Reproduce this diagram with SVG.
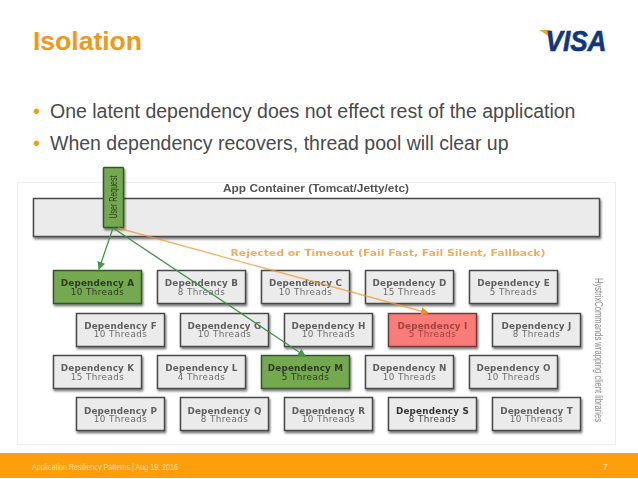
<svg xmlns="http://www.w3.org/2000/svg" width="638" height="479" viewBox="0 0 638 479">
<style>
.s{font-family:"Liberation Sans",Arial,sans-serif}
.d{font-family:"DejaVu Sans",sans-serif}
.b{fill:#ebebeb;stroke:#484848;stroke-width:1.500}
.g{fill:#74a94f;stroke:#37532f;stroke-width:1.500}
.r{fill:#fa7b78;stroke:#6e3c3c;stroke-width:1.500}
.t1{font-size:8.800px;letter-spacing:.2px;font-weight:bold;fill:#5f5f5f;text-anchor:middle}
.t2{font-size:8.800px;letter-spacing:.4px;fill:#6c6c6c;text-anchor:middle}
.dk{fill:#2c3a26}
.bul{font-size:19.500px;fill:#4a4a4a}
.dot{font-size:19.500px;fill:#f59a0e}
</style>
<defs>
<filter id="sh" x="-10%" y="-10%" width="125%" height="135%"><feDropShadow dx="1" dy="2" stdDeviation="1.300" flood-color="#000" flood-opacity=".55"/></filter>
<filter id="soft" x="-5%" y="-20%" width="110%" height="140%"><feGaussianBlur stdDeviation=".35"/></filter>
<marker id="ag" markerUnits="userSpaceOnUse" markerWidth="9" markerHeight="8" refX="7" refY="4" orient="auto"><path d="M0 0L8 4L0 8z" fill="#3f9a45"/></marker>
<marker id="ao" markerUnits="userSpaceOnUse" markerWidth="9" markerHeight="8" refX="7" refY="4" orient="auto"><path d="M0 0L8 4L0 8z" fill="#ee8f1e"/></marker>
</defs>
<rect width="638" height="479" fill="#fff"/>
<text class="s" x="33" y="50" font-size="26.500" font-weight="bold" fill="#f0981a">Isolation</text>
<g id="logo">
<polygon points="539,30 550,30 553,42 547,35" fill="#e9a52c"/>
<text class="s" x="576" y="51" font-size="29" font-weight="bold" font-style="italic" stroke="#12357f" stroke-width=".6" fill="#12357f" text-anchor="middle" textLength="61" lengthAdjust="spacingAndGlyphs">VISA</text>
</g>
<text class="s dot" x="33" y="118">•</text>
<text class="s bul" x="50" y="118">One latent dependency does not effect rest of the application</text>
<text class="s dot" x="33" y="150">•</text>
<text class="s bul" x="50" y="150">When dependency recovers, thread pool will clear up</text>

<g id="panel"><rect x="17.500" y="182.500" width="598" height="262" fill="#fff" stroke="#eeeeee"/>
<text class="s" x="316" y="192" font-size="10" font-weight="bold" fill="#555" text-anchor="middle" textLength="186" lengthAdjust="spacingAndGlyphs" filter="url(#soft)">App Container (Tomcat/Jetty/etc)</text>
<text class="s" transform="translate(595,350) rotate(90)" font-size="10.500" fill="#8a8a8a" text-anchor="middle" textLength="144" lengthAdjust="spacingAndGlyphs" filter="url(#soft)">HystrixCommands wrapping client libraries</text>
</g>
<g id="app-container"><rect class="b" x="33.500" y="198.500" width="566" height="38" filter="url(#sh)"/></g>
<text class="d" x="388" y="256" font-size="9.500" font-weight="bold" fill="#edae5c" text-anchor="middle" textLength="315" lengthAdjust="spacingAndGlyphs" filter="url(#soft)">Rejected or Timeout (Fail Fast, Fail Silent, Fallback)</text>

<g id="dep-a"><rect class="g" x="53.500" y="270.500" width="88" height="33" filter="url(#sh)"/><text class="d t1 dk" x="97.500" y="286" filter="url(#soft)">Dependency A</text><text class="d t2 dk" x="97.500" y="294.500" filter="url(#soft)">10 Threads</text></g>
<g id="dep-b"><rect class="b" x="157.500" y="270.500" width="88" height="33" filter="url(#sh)"/><text class="d t1" x="201.500" y="286" filter="url(#soft)">Dependency B</text><text class="d t2" x="201.500" y="294.500" filter="url(#soft)">8 Threads</text></g>
<g id="dep-c"><rect class="b" x="261.500" y="270.500" width="88" height="33" filter="url(#sh)"/><text class="d t1" x="305.500" y="286" filter="url(#soft)">Dependency C</text><text class="d t2" x="305.500" y="294.500" filter="url(#soft)">10 Threads</text></g>
<g id="dep-d"><rect class="b" x="365.500" y="270.500" width="88" height="33" filter="url(#sh)"/><text class="d t1" x="409.500" y="286" filter="url(#soft)">Dependency D</text><text class="d t2" x="409.500" y="294.500" filter="url(#soft)">15 Threads</text></g>
<g id="dep-e"><rect class="b" x="469.500" y="270.500" width="88" height="33" filter="url(#sh)"/><text class="d t1" x="513.500" y="286" filter="url(#soft)">Dependency E</text><text class="d t2" x="513.500" y="294.500" filter="url(#soft)">5 Threads</text></g>

<g id="dep-f"><rect class="b" x="76.500" y="313.500" width="88" height="33" filter="url(#sh)"/><text class="d t1" x="120.500" y="328.500" filter="url(#soft)">Dependency F</text><text class="d t2" x="120.500" y="337" filter="url(#soft)">10 Threads</text></g>
<g id="dep-g"><rect class="b" x="180.500" y="313.500" width="88" height="33" filter="url(#sh)"/><text class="d t1" x="224.500" y="328.500" filter="url(#soft)">Dependency G</text><text class="d t2" x="224.500" y="337" filter="url(#soft)">10 Threads</text></g>
<g id="dep-h"><rect class="b" x="284.500" y="313.500" width="88" height="33" filter="url(#sh)"/><text class="d t1" x="328.500" y="328.500" filter="url(#soft)">Dependency H</text><text class="d t2" x="328.500" y="337" filter="url(#soft)">10 Threads</text></g>
<g id="dep-i"><rect class="r" x="388.500" y="313.500" width="88" height="33" filter="url(#sh)"/><text class="d t1" x="432.500" y="328.500" style="fill:#a34040" filter="url(#soft)">Dependency I</text><text class="d t2" x="432.500" y="337" style="fill:#a34040" filter="url(#soft)">5 Threads</text></g>
<g id="dep-j"><rect class="b" x="492.500" y="313.500" width="88" height="33" filter="url(#sh)"/><text class="d t1" x="536.500" y="328.500" filter="url(#soft)">Dependency J</text><text class="d t2" x="536.500" y="337" filter="url(#soft)">8 Threads</text></g>

<g id="dep-k"><rect class="b" x="53.500" y="355.500" width="88" height="33" filter="url(#sh)"/><text class="d t1" x="97.500" y="371" filter="url(#soft)">Dependency K</text><text class="d t2" x="97.500" y="379.500" filter="url(#soft)">15 Threads</text></g>
<g id="dep-l"><rect class="b" x="157.500" y="355.500" width="88" height="33" filter="url(#sh)"/><text class="d t1" x="201.500" y="371" filter="url(#soft)">Dependency L</text><text class="d t2" x="201.500" y="379.500" filter="url(#soft)">4 Threads</text></g>
<g id="dep-m"><rect class="g" x="261.500" y="355.500" width="88" height="33" filter="url(#sh)"/><text class="d t1 dk" x="305.500" y="371" filter="url(#soft)">Dependency M</text><text class="d t2 dk" x="305.500" y="379.500" filter="url(#soft)">5 Threads</text></g>
<g id="dep-n"><rect class="b" x="365.500" y="355.500" width="88" height="33" filter="url(#sh)"/><text class="d t1" x="409.500" y="371" filter="url(#soft)">Dependency N</text><text class="d t2" x="409.500" y="379.500" filter="url(#soft)">10 Threads</text></g>
<g id="dep-o"><rect class="b" x="469.500" y="355.500" width="88" height="33" filter="url(#sh)"/><text class="d t1" x="513.500" y="371" filter="url(#soft)">Dependency O</text><text class="d t2" x="513.500" y="379.500" filter="url(#soft)">10 Threads</text></g>

<g id="dep-p"><rect class="b" x="76.500" y="397.500" width="88" height="33" filter="url(#sh)"/><text class="d t1" x="120.500" y="413.500" filter="url(#soft)">Dependency P</text><text class="d t2" x="120.500" y="422" filter="url(#soft)">10 Threads</text></g>
<g id="dep-q"><rect class="b" x="180.500" y="397.500" width="88" height="33" filter="url(#sh)"/><text class="d t1" x="224.500" y="413.500" filter="url(#soft)">Dependency Q</text><text class="d t2" x="224.500" y="422" filter="url(#soft)">8 Threads</text></g>
<g id="dep-r"><rect class="b" x="284.500" y="397.500" width="88" height="33" filter="url(#sh)"/><text class="d t1" x="328.500" y="413.500" filter="url(#soft)">Dependency R</text><text class="d t2" x="328.500" y="422" filter="url(#soft)">10 Threads</text></g>
<g id="dep-s"><rect class="b" x="388.500" y="397.500" width="88" height="33" filter="url(#sh)"/><text class="d t1" x="432.500" y="413.500" style="fill:#333" filter="url(#soft)">Dependency S</text><text class="d t2" x="432.500" y="422" style="fill:#444" filter="url(#soft)">8 Threads</text></g>
<g id="dep-t"><rect class="b" x="492.500" y="397.500" width="88" height="33" filter="url(#sh)"/><text class="d t1" x="536.500" y="413.500" filter="url(#soft)">Dependency T</text><text class="d t2" x="536.500" y="422" filter="url(#soft)">10 Threads</text></g>

<g id="user-request"><rect class="g" x="103.500" y="167.500" width="20" height="60" rx="1" filter="url(#sh)"/><text class="s" transform="translate(117,197) rotate(-90)" font-size="10" fill="#2c3a26" text-anchor="middle" textLength="43" lengthAdjust="spacingAndGlyphs" filter="url(#soft)">User Request</text></g>

<g id="connectors" fill="none" stroke-width="1.300">
<path d="M113 228L99 269" stroke="#3f9a45" marker-end="url(#ag)"/>
<path d="M113 228L305 356" stroke="#3f8f45" marker-end="url(#ag)"/>
<path d="M118 228L428 313" stroke="#ee9a2e" stroke-opacity=".75" marker-end="url(#ao)"/>
</g>

<rect y="453" width="638" height="25" fill="#ff9e0c"/>
<text class="s" x="32" y="470" font-size="8.500" fill="#ffdf9a" textLength="146" lengthAdjust="spacingAndGlyphs">Application Resiliency Patterns | Aug 19, 2016</text>
<text class="s" x="603" y="470" font-size="8.500" fill="#ffdf9a">7</text>
</svg>
